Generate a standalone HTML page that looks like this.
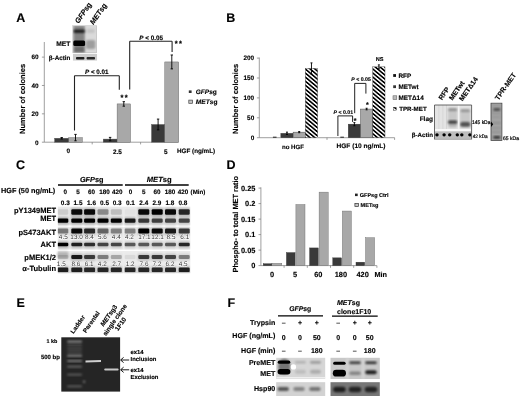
<!DOCTYPE html>
<html><head><meta charset="utf-8"><style>
html,body{margin:0;padding:0;background:#fff;}
#root{position:relative;width:520px;height:396px;overflow:hidden;background:#fff;}
svg{position:absolute;left:0;top:0;font-family:'Liberation Sans', Arial, sans-serif;text-rendering:geometricPrecision;filter:blur(0.3px);}
text[font-weight=bold]{stroke:#000;stroke-width:0.14px;}
</style></head><body><div id="root">
<svg width="520" height="396" viewBox="0 0 520 396">
<text x="16.30" y="22.30" font-size="12.5" text-anchor="start" font-weight="bold" font-style="normal" fill="#000" >A</text>
<text x="226.20" y="21.80" font-size="12.5" text-anchor="start" font-weight="bold" font-style="normal" fill="#000" >B</text>
<text x="16.00" y="169.40" font-size="12.5" text-anchor="start" font-weight="bold" font-style="normal" fill="#000" >C</text>
<text x="226.50" y="169.10" font-size="12.5" text-anchor="start" font-weight="bold" font-style="normal" fill="#000" >D</text>
<text x="16.60" y="306.60" font-size="12.5" text-anchor="start" font-weight="bold" font-style="normal" fill="#000" >E</text>
<text x="227.60" y="306.60" font-size="12.5" text-anchor="start" font-weight="bold" font-style="normal" fill="#000" >F</text>
<line x1="44.30" y1="42.00" x2="44.30" y2="142.20" stroke="#777" stroke-width="0.7"/>
<line x1="44.30" y1="142.20" x2="178.70" y2="142.20" stroke="#777" stroke-width="0.7"/>
<line x1="41.90" y1="142.20" x2="44.30" y2="142.20" stroke="#777" stroke-width="0.7"/>
<text x="38.60" y="144.50" font-size="6.4" text-anchor="end" font-weight="bold" font-style="normal" fill="#000" >0</text>
<line x1="41.90" y1="113.84" x2="44.30" y2="113.84" stroke="#777" stroke-width="0.7"/>
<text x="38.60" y="116.14" font-size="6.4" text-anchor="end" font-weight="bold" font-style="normal" fill="#000" >20</text>
<line x1="41.90" y1="85.48" x2="44.30" y2="85.48" stroke="#777" stroke-width="0.7"/>
<text x="38.60" y="87.78" font-size="6.4" text-anchor="end" font-weight="bold" font-style="normal" fill="#000" >40</text>
<line x1="41.90" y1="57.12" x2="44.30" y2="57.12" stroke="#777" stroke-width="0.7"/>
<text x="38.60" y="59.42" font-size="6.4" text-anchor="end" font-weight="bold" font-style="normal" fill="#000" >60</text>
<line x1="92.20" y1="142.20" x2="92.20" y2="144.40" stroke="#777" stroke-width="0.7"/>
<line x1="140.60" y1="142.20" x2="140.60" y2="144.40" stroke="#777" stroke-width="0.7"/>
<rect x="54.60" y="138.23" width="14.20" height="3.97" fill="#3a3a3a" stroke="#555" stroke-width="0.4" />
<rect x="68.80" y="137.66" width="13.50" height="4.54" fill="#a8a8a8" stroke="#555" stroke-width="0.4" />
<rect x="103.20" y="139.08" width="13.90" height="3.12" fill="#3a3a3a" stroke="#555" stroke-width="0.4" />
<rect x="117.10" y="103.91" width="13.40" height="38.29" fill="#a8a8a8" stroke="#555" stroke-width="0.4" />
<rect x="151.50" y="124.47" width="13.30" height="17.72" fill="#3a3a3a" stroke="#555" stroke-width="0.4" />
<rect x="164.80" y="61.94" width="13.90" height="80.26" fill="#a8a8a8" stroke="#555" stroke-width="0.4" />
<line x1="61.70" y1="137.52" x2="61.70" y2="138.94" stroke="#000" stroke-width="0.9"/>
<line x1="60.50" y1="137.52" x2="62.90" y2="137.52" stroke="#000" stroke-width="0.9"/>
<line x1="60.50" y1="138.94" x2="62.90" y2="138.94" stroke="#000" stroke-width="0.9"/>
<line x1="75.50" y1="134.40" x2="75.50" y2="140.78" stroke="#000" stroke-width="0.9"/>
<line x1="74.30" y1="134.40" x2="76.70" y2="134.40" stroke="#000" stroke-width="0.9"/>
<line x1="74.30" y1="140.78" x2="76.70" y2="140.78" stroke="#000" stroke-width="0.9"/>
<line x1="110.10" y1="137.38" x2="110.10" y2="140.78" stroke="#000" stroke-width="0.9"/>
<line x1="108.90" y1="137.38" x2="111.30" y2="137.38" stroke="#000" stroke-width="0.9"/>
<line x1="108.90" y1="140.78" x2="111.30" y2="140.78" stroke="#000" stroke-width="0.9"/>
<line x1="123.80" y1="101.65" x2="123.80" y2="106.18" stroke="#000" stroke-width="0.9"/>
<line x1="122.60" y1="101.65" x2="125.00" y2="101.65" stroke="#000" stroke-width="0.9"/>
<line x1="122.60" y1="106.18" x2="125.00" y2="106.18" stroke="#000" stroke-width="0.9"/>
<line x1="158.10" y1="119.09" x2="158.10" y2="129.86" stroke="#000" stroke-width="0.9"/>
<line x1="156.90" y1="119.09" x2="159.30" y2="119.09" stroke="#000" stroke-width="0.9"/>
<line x1="156.90" y1="129.86" x2="159.30" y2="129.86" stroke="#000" stroke-width="0.9"/>
<line x1="171.80" y1="54.99" x2="171.80" y2="68.89" stroke="#000" stroke-width="0.9"/>
<line x1="170.60" y1="54.99" x2="173.00" y2="54.99" stroke="#000" stroke-width="0.9"/>
<line x1="170.60" y1="68.89" x2="173.00" y2="68.89" stroke="#000" stroke-width="0.9"/>
<line x1="74.50" y1="130.50" x2="74.50" y2="75.70" stroke="#222" stroke-width="1.1"/>
<line x1="74.50" y1="75.70" x2="119.30" y2="75.70" stroke="#222" stroke-width="1.1"/>
<line x1="119.30" y1="75.70" x2="119.30" y2="89.80" stroke="#222" stroke-width="1.1"/>
<line x1="129.70" y1="89.60" x2="129.70" y2="41.20" stroke="#222" stroke-width="1.1"/>
<line x1="129.70" y1="41.20" x2="172.10" y2="41.20" stroke="#222" stroke-width="1.1"/>
<line x1="172.10" y1="41.20" x2="172.10" y2="52.00" stroke="#222" stroke-width="1.1"/>
<text x="96.80" y="74.10" font-size="6.3" text-anchor="middle" font-weight="bold" font-style="normal" fill="#000" ><tspan font-style="italic">P</tspan> &lt; 0.01</text>
<text x="151.10" y="40.00" font-size="6.3" text-anchor="middle" font-weight="bold" font-style="normal" fill="#000" ><tspan font-style="italic">P</tspan> &lt; 0.05</text>
<text x="124.80" y="99.60" font-size="7.5" text-anchor="middle" font-weight="bold" font-style="normal" fill="#000" letter-spacing="1.3">**</text>
<text x="178.90" y="45.80" font-size="7.5" text-anchor="middle" font-weight="bold" font-style="normal" fill="#000" letter-spacing="1.3">**</text>
<rect x="188.80" y="90.40" width="2.80" height="2.60" fill="#333" />
<text x="195.80" y="94.00" font-size="6.5" text-anchor="start" font-weight="bold" font-style="normal" fill="#000" ><tspan font-style="italic">GFP</tspan>sg</text>
<rect x="188.80" y="100.10" width="3.80" height="3.20" fill="#c4c4c4" stroke="#444" stroke-width="0.7" />
<text x="195.80" y="104.10" font-size="6.6" text-anchor="start" font-weight="bold" font-style="normal" fill="#000" ><tspan font-style="italic">MET</tspan>sg</text>
<text x="68.20" y="153.40" font-size="6.4" text-anchor="middle" font-weight="bold" font-style="normal" fill="#000" >0</text>
<text x="117.40" y="153.80" font-size="6.4" text-anchor="middle" font-weight="bold" font-style="normal" fill="#000" >2.5</text>
<text x="165.70" y="153.50" font-size="6.4" text-anchor="middle" font-weight="bold" font-style="normal" fill="#000" >5</text>
<text x="177.00" y="153.40" font-size="6.3" text-anchor="start" font-weight="bold" font-style="normal" fill="#000" >HGF (ng/mL)</text>
<text transform="translate(25.30,98.90) rotate(-90)" font-size="7.5" text-anchor="middle" font-weight="bold">Number of colonies</text>
<line x1="259.30" y1="57.50" x2="259.30" y2="137.70" stroke="#777" stroke-width="0.7"/>
<line x1="259.30" y1="137.70" x2="394.60" y2="137.70" stroke="#777" stroke-width="0.7"/>
<line x1="256.90" y1="137.70" x2="259.30" y2="137.70" stroke="#777" stroke-width="0.7"/>
<text x="254.20" y="140.00" font-size="6.4" text-anchor="end" font-weight="bold" font-style="normal" fill="#000" >0</text>
<line x1="256.90" y1="117.80" x2="259.30" y2="117.80" stroke="#777" stroke-width="0.7"/>
<text x="254.20" y="120.10" font-size="6.4" text-anchor="end" font-weight="bold" font-style="normal" fill="#000" >50</text>
<line x1="256.90" y1="97.90" x2="259.30" y2="97.90" stroke="#777" stroke-width="0.7"/>
<text x="254.20" y="100.20" font-size="6.4" text-anchor="end" font-weight="bold" font-style="normal" fill="#000" >100</text>
<line x1="256.90" y1="78.00" x2="259.30" y2="78.00" stroke="#777" stroke-width="0.7"/>
<text x="254.20" y="80.30" font-size="6.4" text-anchor="end" font-weight="bold" font-style="normal" fill="#000" >150</text>
<line x1="256.90" y1="58.10" x2="259.30" y2="58.10" stroke="#777" stroke-width="0.7"/>
<text x="254.20" y="60.40" font-size="6.4" text-anchor="end" font-weight="bold" font-style="normal" fill="#000" >200</text>
<line x1="327.00" y1="137.70" x2="327.00" y2="139.90" stroke="#777" stroke-width="0.7"/>
<line x1="394.60" y1="137.70" x2="394.60" y2="139.90" stroke="#777" stroke-width="0.7"/>
<defs><pattern id="hatch" patternUnits="userSpaceOnUse" width="3.1" height="3.1" patternTransform="rotate(-50)"><rect width="3.1" height="3.1" fill="#fff"/><rect width="1.6" height="3.1" fill="#000"/></pattern></defs>
<rect x="272.93" y="136.70" width="3.60" height="1.00" fill="#222" />
<rect x="280.85" y="133.32" width="12.25" height="4.38" fill="#3a3a3a" stroke="#333" stroke-width="0.4" />
<line x1="286.98" y1="132.13" x2="286.98" y2="134.52" stroke="#000" stroke-width="0.9"/>
<line x1="285.98" y1="132.13" x2="287.98" y2="132.13" stroke="#000" stroke-width="0.9"/>
<line x1="285.98" y1="134.52" x2="287.98" y2="134.52" stroke="#000" stroke-width="0.9"/>
<rect x="293.10" y="132.13" width="12.25" height="5.57" fill="#a8a8a8" stroke="#333" stroke-width="0.4" />
<line x1="299.23" y1="131.53" x2="299.23" y2="132.72" stroke="#000" stroke-width="0.9"/>
<line x1="298.23" y1="131.53" x2="300.23" y2="131.53" stroke="#000" stroke-width="0.9"/>
<line x1="298.23" y1="132.72" x2="300.23" y2="132.72" stroke="#000" stroke-width="0.9"/>
<rect x="305.35" y="68.45" width="12.25" height="69.25" fill="url(#hatch)" stroke="#333" stroke-width="0.4" />
<line x1="311.48" y1="62.88" x2="311.48" y2="74.02" stroke="#000" stroke-width="0.9"/>
<line x1="310.48" y1="62.88" x2="312.48" y2="62.88" stroke="#000" stroke-width="0.9"/>
<line x1="310.48" y1="74.02" x2="312.48" y2="74.02" stroke="#000" stroke-width="0.9"/>
<rect x="340.32" y="136.70" width="3.60" height="1.00" fill="#222" />
<rect x="348.25" y="124.17" width="12.25" height="13.53" fill="#3a3a3a" stroke="#333" stroke-width="0.4" />
<line x1="354.38" y1="122.58" x2="354.38" y2="125.76" stroke="#000" stroke-width="0.9"/>
<line x1="353.38" y1="122.58" x2="355.38" y2="122.58" stroke="#000" stroke-width="0.9"/>
<line x1="353.38" y1="125.76" x2="355.38" y2="125.76" stroke="#000" stroke-width="0.9"/>
<rect x="360.50" y="109.04" width="12.25" height="28.66" fill="#a8a8a8" stroke="#333" stroke-width="0.4" />
<line x1="366.62" y1="108.25" x2="366.62" y2="109.84" stroke="#000" stroke-width="0.9"/>
<line x1="365.62" y1="108.25" x2="367.62" y2="108.25" stroke="#000" stroke-width="0.9"/>
<line x1="365.62" y1="109.84" x2="367.62" y2="109.84" stroke="#000" stroke-width="0.9"/>
<rect x="372.75" y="66.86" width="12.25" height="70.84" fill="url(#hatch)" stroke="#333" stroke-width="0.4" />
<line x1="378.88" y1="64.87" x2="378.88" y2="68.85" stroke="#000" stroke-width="0.9"/>
<line x1="377.88" y1="64.87" x2="379.88" y2="64.87" stroke="#000" stroke-width="0.9"/>
<line x1="377.88" y1="68.85" x2="379.88" y2="68.85" stroke="#000" stroke-width="0.9"/>
<line x1="337.90" y1="136.00" x2="337.90" y2="115.90" stroke="#222" stroke-width="1.0"/>
<line x1="337.90" y1="115.90" x2="352.60" y2="115.90" stroke="#222" stroke-width="1.0"/>
<line x1="352.60" y1="115.90" x2="352.60" y2="121.90" stroke="#222" stroke-width="1.0"/>
<line x1="354.70" y1="113.20" x2="354.70" y2="83.40" stroke="#222" stroke-width="1.0"/>
<line x1="354.70" y1="83.40" x2="365.90" y2="83.40" stroke="#222" stroke-width="1.0"/>
<line x1="365.90" y1="83.40" x2="365.90" y2="93.60" stroke="#222" stroke-width="1.0"/>
<text x="343.30" y="113.60" font-size="5.2" text-anchor="middle" font-weight="bold" font-style="normal" fill="#000" ><tspan font-style="italic">P</tspan> &lt; 0.01</text>
<text x="361.10" y="81.30" font-size="5.2" text-anchor="middle" font-weight="bold" font-style="normal" fill="#000" ><tspan font-style="italic">P</tspan> &lt; 0.05</text>
<text x="355.00" y="122.60" font-size="7" text-anchor="middle" font-weight="bold" font-style="normal" fill="#000" >*</text>
<text x="367.40" y="107.40" font-size="7" text-anchor="middle" font-weight="bold" font-style="normal" fill="#000" >*</text>
<text x="379.60" y="60.60" font-size="5.6" text-anchor="middle" font-weight="bold" font-style="normal" fill="#000" >NS</text>
<text x="293.00" y="148.80" font-size="6.1" text-anchor="middle" font-weight="bold" font-style="normal" fill="#000" >no HGF</text>
<text x="361.00" y="148.20" font-size="6.6" text-anchor="middle" font-weight="bold" font-style="normal" fill="#000" >HGF (10 ng/mL)</text>
<text transform="translate(238.20,98.90) rotate(-90)" font-size="7.5" text-anchor="middle" font-weight="bold">Number of colonies</text>
<rect x="393.20" y="74.10" width="2.80" height="2.80" fill="#111" />
<text x="398.50" y="77.70" font-size="6.4" text-anchor="start" font-weight="bold" font-style="normal" fill="#000" >RFP</text>
<rect x="393.20" y="85.30" width="2.80" height="2.80" fill="#333" />
<text x="398.50" y="88.90" font-size="6.4" text-anchor="start" font-weight="bold" font-style="normal" fill="#000" >METwt</text>
<rect x="393.00" y="95.80" width="3.80" height="3.80" fill="#bbb" stroke="#555" stroke-width="0.5" />
<text x="398.50" y="100.00" font-size="6.4" text-anchor="start" font-weight="bold" font-style="normal" fill="#000" >MET&#916;14</text>
<rect x="393.30" y="107.20" width="3.00" height="3.00" fill="url(#hatch)" stroke="#333" stroke-width="0.4" />
<text x="399.20" y="111.10" font-size="6.2" text-anchor="start" font-weight="bold" font-style="normal" fill="#000" >TPR-MET</text>
<text x="91.70" y="182.10" font-size="7.3" text-anchor="middle" font-weight="bold" font-style="normal" fill="#000" ><tspan font-style="italic">GFP</tspan>sg</text>
<text x="159.20" y="181.80" font-size="7.6" text-anchor="middle" font-weight="bold" font-style="normal" fill="#000" ><tspan font-style="italic">MET</tspan>sg</text>
<line x1="58.00" y1="185.00" x2="122.70" y2="185.00" stroke="#000" stroke-width="1.4"/>
<line x1="125.00" y1="185.00" x2="188.70" y2="185.00" stroke="#000" stroke-width="1.4"/>
<text x="55.30" y="192.80" font-size="7.3" text-anchor="end" font-weight="bold" font-style="normal" fill="#000" >HGF (50 ng/mL)</text>
<text x="65.30" y="194.30" font-size="6.3" text-anchor="middle" font-weight="bold" font-style="normal" fill="#000" >0</text>
<text x="78.00" y="194.30" font-size="6.3" text-anchor="middle" font-weight="bold" font-style="normal" fill="#000" >5</text>
<text x="91.50" y="194.30" font-size="6.3" text-anchor="middle" font-weight="bold" font-style="normal" fill="#000" >60</text>
<text x="104.50" y="194.30" font-size="6.3" text-anchor="middle" font-weight="bold" font-style="normal" fill="#000" >180</text>
<text x="117.20" y="194.30" font-size="6.3" text-anchor="middle" font-weight="bold" font-style="normal" fill="#000" >420</text>
<text x="130.40" y="194.30" font-size="6.3" text-anchor="middle" font-weight="bold" font-style="normal" fill="#000" >0</text>
<text x="143.80" y="194.30" font-size="6.3" text-anchor="middle" font-weight="bold" font-style="normal" fill="#000" >5</text>
<text x="156.90" y="194.30" font-size="6.3" text-anchor="middle" font-weight="bold" font-style="normal" fill="#000" >60</text>
<text x="169.90" y="194.30" font-size="6.3" text-anchor="middle" font-weight="bold" font-style="normal" fill="#000" >180</text>
<text x="182.90" y="194.30" font-size="6.3" text-anchor="middle" font-weight="bold" font-style="normal" fill="#000" >420</text>
<text x="190.60" y="194.30" font-size="6.2" text-anchor="start" font-weight="bold" font-style="normal" fill="#000" >(Min)</text>
<text x="65.30" y="204.50" font-size="6.4" text-anchor="middle" font-weight="bold" font-style="normal" fill="#000" >0.3</text>
<text x="78.00" y="204.50" font-size="6.4" text-anchor="middle" font-weight="bold" font-style="normal" fill="#000" >1.5</text>
<text x="91.50" y="204.50" font-size="6.4" text-anchor="middle" font-weight="bold" font-style="normal" fill="#000" >1.6</text>
<text x="104.50" y="204.50" font-size="6.4" text-anchor="middle" font-weight="bold" font-style="normal" fill="#000" >0.5</text>
<text x="117.20" y="204.50" font-size="6.4" text-anchor="middle" font-weight="bold" font-style="normal" fill="#000" >0.3</text>
<text x="130.40" y="204.50" font-size="6.4" text-anchor="middle" font-weight="bold" font-style="normal" fill="#000" >0.1</text>
<text x="143.80" y="204.50" font-size="6.4" text-anchor="middle" font-weight="bold" font-style="normal" fill="#000" >2.4</text>
<text x="156.90" y="204.50" font-size="6.4" text-anchor="middle" font-weight="bold" font-style="normal" fill="#000" >2.9</text>
<text x="169.90" y="204.50" font-size="6.4" text-anchor="middle" font-weight="bold" font-style="normal" fill="#000" >1.8</text>
<text x="182.90" y="204.50" font-size="6.4" text-anchor="middle" font-weight="bold" font-style="normal" fill="#000" >0.8</text>
<text x="56.00" y="212.70" font-size="7.5" text-anchor="end" font-weight="bold" font-style="normal" fill="#000" >pY1349MET</text>
<text x="56.00" y="221.30" font-size="7.5" text-anchor="end" font-weight="bold" font-style="normal" fill="#000" >MET</text>
<text x="56.00" y="235.30" font-size="7.5" text-anchor="end" font-weight="bold" font-style="normal" fill="#000" >pS473AKT</text>
<text x="56.00" y="246.50" font-size="7.5" text-anchor="end" font-weight="bold" font-style="normal" fill="#000" >AKT</text>
<text x="56.00" y="260.20" font-size="7.5" text-anchor="end" font-weight="bold" font-style="normal" fill="#000" >pMEK1/2</text>
<text x="56.00" y="271.40" font-size="7.5" text-anchor="end" font-weight="bold" font-style="normal" fill="#000" >&#945;-Tubulin</text>
<line x1="260.90" y1="187.30" x2="260.90" y2="265.60" stroke="#777" stroke-width="0.7"/>
<line x1="260.90" y1="265.60" x2="376.80" y2="265.60" stroke="#777" stroke-width="0.7"/>
<line x1="258.50" y1="265.60" x2="260.90" y2="265.60" stroke="#777" stroke-width="0.7"/>
<text x="255.40" y="268.20" font-size="7.4" text-anchor="end" font-weight="bold" font-style="normal" fill="#000" >0</text>
<line x1="258.50" y1="250.10" x2="260.90" y2="250.10" stroke="#777" stroke-width="0.7"/>
<text x="255.40" y="252.70" font-size="7.4" text-anchor="end" font-weight="bold" font-style="normal" fill="#000" >0.05</text>
<line x1="258.50" y1="234.60" x2="260.90" y2="234.60" stroke="#777" stroke-width="0.7"/>
<text x="255.40" y="237.20" font-size="7.4" text-anchor="end" font-weight="bold" font-style="normal" fill="#000" >0.1</text>
<line x1="258.50" y1="219.10" x2="260.90" y2="219.10" stroke="#777" stroke-width="0.7"/>
<text x="255.40" y="221.70" font-size="7.4" text-anchor="end" font-weight="bold" font-style="normal" fill="#000" >0.15</text>
<line x1="258.50" y1="203.60" x2="260.90" y2="203.60" stroke="#777" stroke-width="0.7"/>
<text x="255.40" y="206.20" font-size="7.4" text-anchor="end" font-weight="bold" font-style="normal" fill="#000" >0.2</text>
<line x1="258.50" y1="188.10" x2="260.90" y2="188.10" stroke="#777" stroke-width="0.7"/>
<text x="255.40" y="190.70" font-size="7.4" text-anchor="end" font-weight="bold" font-style="normal" fill="#000" >0.25</text>
<line x1="284.10" y1="265.60" x2="284.10" y2="267.80" stroke="#777" stroke-width="0.7"/>
<rect x="263.20" y="263.74" width="8.70" height="1.86" fill="#3a3a3a" stroke="#333" stroke-width="0.4" />
<rect x="272.70" y="263.31" width="9.10" height="2.29" fill="#a8a8a8" stroke="#666" stroke-width="0.4" />
<line x1="307.30" y1="265.60" x2="307.30" y2="267.80" stroke="#777" stroke-width="0.7"/>
<rect x="286.40" y="252.58" width="8.70" height="13.02" fill="#3a3a3a" stroke="#333" stroke-width="0.4" />
<rect x="295.90" y="204.53" width="9.10" height="61.07" fill="#a8a8a8" stroke="#666" stroke-width="0.4" />
<line x1="330.50" y1="265.60" x2="330.50" y2="267.80" stroke="#777" stroke-width="0.7"/>
<rect x="309.60" y="247.93" width="8.70" height="17.67" fill="#3a3a3a" stroke="#333" stroke-width="0.4" />
<rect x="319.10" y="192.13" width="9.10" height="73.47" fill="#a8a8a8" stroke="#666" stroke-width="0.4" />
<line x1="353.70" y1="265.60" x2="353.70" y2="267.80" stroke="#777" stroke-width="0.7"/>
<rect x="332.80" y="257.85" width="8.70" height="7.75" fill="#3a3a3a" stroke="#333" stroke-width="0.4" />
<rect x="342.30" y="211.04" width="9.10" height="54.56" fill="#a8a8a8" stroke="#666" stroke-width="0.4" />
<line x1="376.90" y1="265.60" x2="376.90" y2="267.80" stroke="#777" stroke-width="0.7"/>
<rect x="356.00" y="262.19" width="8.70" height="3.41" fill="#3a3a3a" stroke="#333" stroke-width="0.4" />
<rect x="365.50" y="237.70" width="9.10" height="27.90" fill="#a8a8a8" stroke="#666" stroke-width="0.4" />
<text x="272.00" y="277.40" font-size="7.4" text-anchor="middle" font-weight="bold" font-style="normal" fill="#000" >0</text>
<text x="295.10" y="277.40" font-size="7.4" text-anchor="middle" font-weight="bold" font-style="normal" fill="#000" >5</text>
<text x="318.30" y="277.40" font-size="7.4" text-anchor="middle" font-weight="bold" font-style="normal" fill="#000" >60</text>
<text x="340.90" y="277.40" font-size="7.4" text-anchor="middle" font-weight="bold" font-style="normal" fill="#000" >180</text>
<text x="362.60" y="277.40" font-size="7.4" text-anchor="middle" font-weight="bold" font-style="normal" fill="#000" >420</text>
<text x="374.50" y="277.40" font-size="7.3" text-anchor="start" font-weight="bold" font-style="normal" fill="#000" >Min</text>
<rect x="355.00" y="193.60" width="2.70" height="2.50" fill="#222" />
<text x="359.80" y="197.20" font-size="5.5" text-anchor="start" font-weight="bold" font-style="normal" fill="#000" >GFPsg Ctrl</text>
<rect x="354.90" y="203.40" width="3.50" height="3.10" fill="#c4c4c4" stroke="#333" stroke-width="0.7" />
<text x="360.50" y="207.20" font-size="5.6" text-anchor="start" font-weight="bold" font-style="normal" fill="#000" >METsg</text>
<text transform="translate(237.70,224.20) rotate(-90)" font-size="7.4" text-anchor="middle" font-weight="bold">Phospho- to total MET ratio</text>
<text x="57.30" y="342.60" font-size="5.4" text-anchor="end" font-weight="bold" font-style="normal" fill="#000" >1 kb</text>
<text x="59.90" y="359.30" font-size="6.0" text-anchor="end" font-weight="bold" font-style="normal" fill="#000" >500 bp</text>
<text x="130.50" y="353.70" font-size="5.9" text-anchor="start" font-weight="bold" font-style="normal" fill="#000" >ex14</text>
<text x="130.50" y="361.20" font-size="5.9" text-anchor="start" font-weight="bold" font-style="normal" fill="#000" >Inclusion</text>
<text x="130.50" y="371.50" font-size="5.9" text-anchor="start" font-weight="bold" font-style="normal" fill="#000" >ex14</text>
<text x="130.50" y="379.10" font-size="5.9" text-anchor="start" font-weight="bold" font-style="normal" fill="#000" >Exclusion</text>
<text x="275.30" y="324.90" font-size="7.1" text-anchor="end" font-weight="bold" font-style="normal" fill="#000" >Trypsin</text>
<text x="275.30" y="338.40" font-size="7.1" text-anchor="end" font-weight="bold" font-style="normal" fill="#000" >HGF (ng/mL)</text>
<text x="275.30" y="353.10" font-size="7.1" text-anchor="end" font-weight="bold" font-style="normal" fill="#000" >HGF (min)</text>
<text x="275.30" y="364.70" font-size="7.1" text-anchor="end" font-weight="bold" font-style="normal" fill="#000" >PreMET</text>
<text x="275.30" y="376.00" font-size="7.1" text-anchor="end" font-weight="bold" font-style="normal" fill="#000" >MET</text>
<text x="275.30" y="390.70" font-size="7.1" text-anchor="end" font-weight="bold" font-style="normal" fill="#000" >Hsp90</text>
<text x="300.20" y="311.00" font-size="6.8" text-anchor="middle" font-weight="bold" font-style="normal" fill="#000" ><tspan font-style="italic">GFP</tspan>sg</text>
<text x="337.00" y="305.20" font-size="7.0" text-anchor="start" font-weight="bold" font-style="normal" fill="#000" ><tspan font-style="italic">MET</tspan>sg</text>
<text x="337.00" y="314.10" font-size="7.0" text-anchor="start" font-weight="bold" font-style="normal" fill="#000" >clone1F10</text>
<line x1="278.00" y1="315.90" x2="323.00" y2="315.90" stroke="#000" stroke-width="1.3"/>
<line x1="332.00" y1="316.10" x2="377.70" y2="316.10" stroke="#000" stroke-width="1.3"/>
<text x="283.80" y="325.00" font-size="7.0" text-anchor="middle" font-weight="bold" font-style="normal" fill="#000" >&#8211;</text>
<text x="300.00" y="325.00" font-size="7.0" text-anchor="middle" font-weight="bold" font-style="normal" fill="#000" >+</text>
<text x="316.80" y="325.00" font-size="7.0" text-anchor="middle" font-weight="bold" font-style="normal" fill="#000" >+</text>
<text x="338.30" y="325.00" font-size="7.0" text-anchor="middle" font-weight="bold" font-style="normal" fill="#000" >&#8211;</text>
<text x="354.70" y="325.00" font-size="7.0" text-anchor="middle" font-weight="bold" font-style="normal" fill="#000" >+</text>
<text x="369.70" y="325.00" font-size="7.0" text-anchor="middle" font-weight="bold" font-style="normal" fill="#000" >+</text>
<text x="283.80" y="339.80" font-size="7.0" text-anchor="middle" font-weight="bold" font-style="normal" fill="#000" >0</text>
<text x="300.00" y="339.80" font-size="7.0" text-anchor="middle" font-weight="bold" font-style="normal" fill="#000" >0</text>
<text x="316.80" y="339.80" font-size="7.0" text-anchor="middle" font-weight="bold" font-style="normal" fill="#000" >50</text>
<text x="338.30" y="339.80" font-size="7.0" text-anchor="middle" font-weight="bold" font-style="normal" fill="#000" >0</text>
<text x="354.70" y="339.80" font-size="7.0" text-anchor="middle" font-weight="bold" font-style="normal" fill="#000" >0</text>
<text x="369.70" y="339.80" font-size="7.0" text-anchor="middle" font-weight="bold" font-style="normal" fill="#000" >50</text>
<text x="283.80" y="353.00" font-size="7.0" text-anchor="middle" font-weight="bold" font-style="normal" fill="#000" >&#8211;</text>
<text x="300.00" y="353.00" font-size="7.0" text-anchor="middle" font-weight="bold" font-style="normal" fill="#000" >&#8211;</text>
<text x="316.80" y="353.00" font-size="7.0" text-anchor="middle" font-weight="bold" font-style="normal" fill="#000" >180</text>
<text x="338.30" y="353.00" font-size="7.0" text-anchor="middle" font-weight="bold" font-style="normal" fill="#000" >&#8211;</text>
<text x="354.70" y="353.00" font-size="7.0" text-anchor="middle" font-weight="bold" font-style="normal" fill="#000" >&#8211;</text>
<text x="369.70" y="353.00" font-size="7.0" text-anchor="middle" font-weight="bold" font-style="normal" fill="#000" >180</text>
<defs>
<filter id="f3" x="-50%" y="-50%" width="200%" height="200%"><feGaussianBlur stdDeviation="0.3"/></filter>
<filter id="f5" x="-50%" y="-50%" width="200%" height="200%"><feGaussianBlur stdDeviation="0.5"/></filter>
<filter id="f8" x="-50%" y="-50%" width="200%" height="200%"><feGaussianBlur stdDeviation="0.8"/></filter>
<filter id="f12" x="-50%" y="-50%" width="200%" height="200%"><feGaussianBlur stdDeviation="1.2"/></filter>
<filter id="f20" x="-50%" y="-50%" width="200%" height="200%"><feGaussianBlur stdDeviation="2.0"/></filter>
</defs>
<clipPath id="c1"><rect x="72.80" y="25.70" width="23.90" height="27.20"/></clipPath><g clip-path="url(#c1)">
<rect x="72.80" y="25.70" width="23.90" height="27.20" fill="#cbcbcb" />
<rect x="85.20" y="25.70" width="11.50" height="27.20" fill="#dadada" filter="url(#f5)"/>
<rect x="73.80" y="25.70" width="10.80" height="27.20" fill="#000" fill-opacity="0.36" filter="url(#f8)"/>
<rect x="73.60" y="29.70" width="11.20" height="3.00" rx="1.00" fill="#000" fill-opacity="0.85" filter="url(#f8)"/>
<rect x="73.30" y="40.50" width="11.80" height="5.60" rx="1.50" fill="#000" fill-opacity="1.00" filter="url(#f5)"/>
<rect x="73.95" y="47.00" width="10.50" height="5.00" rx="1.00" fill="#000" fill-opacity="0.20" filter="url(#f12)"/>
<rect x="85.85" y="40.00" width="9.50" height="9.00" rx="2.00" fill="#000" fill-opacity="0.28" filter="url(#f12)"/>
<rect x="86.10" y="29.00" width="9.00" height="4.00" rx="2.00" fill="#000" fill-opacity="0.10" filter="url(#f12)"/>
</g>
<rect x="72.80" y="25.70" width="23.90" height="27.20" fill="none" stroke="#aaa" stroke-width="0.4" />
<clipPath id="c2"><rect x="72.80" y="53.80" width="24.40" height="6.90"/></clipPath><g clip-path="url(#c2)">
<rect x="72.80" y="53.80" width="24.40" height="6.90" fill="#cbcbcb" />
<rect x="76.00" y="57.00" width="8.40" height="2.60" rx="0.80" fill="#000" fill-opacity="0.85" filter="url(#f5)"/>
<rect x="86.60" y="57.00" width="8.40" height="2.60" rx="0.80" fill="#000" fill-opacity="0.80" filter="url(#f5)"/>
</g>
<text transform="translate(78.40,23.90) rotate(-55)" font-size="7.3" text-anchor="start" font-weight="bold"><tspan font-style="italic">GFP</tspan>sg</text>
<text transform="translate(93.40,25.00) rotate(-55)" font-size="7.3" text-anchor="start" font-weight="bold"><tspan font-style="italic">MET</tspan>sg</text>
<text x="70.40" y="45.50" font-size="6.7" text-anchor="end" font-weight="bold" font-style="normal" fill="#000" >MET</text>
<text x="70.40" y="60.30" font-size="6.3" text-anchor="end" font-weight="bold" font-style="normal" fill="#000" >&#946;-Actin</text>
<clipPath id="c3"><rect x="434.50" y="105.00" width="37.10" height="34.40"/></clipPath><g clip-path="url(#c3)">
<rect x="434.50" y="105.00" width="37.10" height="34.40" fill="#e4e4e4" />
<rect x="438.50" y="105.00" width="0.80" height="24.00" fill="#d4d4d4" filter="url(#f5)"/>
<rect x="442.50" y="105.00" width="0.80" height="24.00" fill="#d4d4d4" filter="url(#f5)"/>
<rect x="446.00" y="105.00" width="0.80" height="24.00" fill="#d4d4d4" filter="url(#f5)"/>
<rect x="447.95" y="109.00" width="9.50" height="14.00" rx="2.00" fill="#000" fill-opacity="0.12" filter="url(#f12)"/>
<rect x="447.95" y="108.10" width="9.50" height="3.00" rx="1.50" fill="#000" fill-opacity="0.30" filter="url(#f8)"/>
<rect x="447.95" y="120.60" width="9.50" height="3.20" rx="1.60" fill="#000" fill-opacity="0.72" filter="url(#f8)"/>
<rect x="448.20" y="123.50" width="9.00" height="4.00" rx="2.00" fill="#000" fill-opacity="0.20" filter="url(#f12)"/>
<rect x="459.95" y="110.00" width="10.50" height="14.00" rx="2.00" fill="#000" fill-opacity="0.12" filter="url(#f12)"/>
<rect x="460.20" y="109.10" width="10.00" height="3.00" rx="1.50" fill="#000" fill-opacity="0.28" filter="url(#f8)"/>
<rect x="459.95" y="122.10" width="10.50" height="5.00" rx="2.50" fill="#000" fill-opacity="0.62" filter="url(#f8)"/>
<rect x="457.90" y="105.00" width="1.60" height="24.00" fill="#f2f2f2" filter="url(#f5)"/>
<rect x="434.50" y="129.00" width="37.10" height="2.00" fill="#f8f8f8" filter="url(#f3)"/>
<rect x="434.50" y="131.50" width="37.10" height="8.00" fill="#bdbdbd" filter="url(#f5)"/>
<rect x="435.30" y="133.20" width="3.40" height="3.20" rx="1.60" fill="#000" fill-opacity="1.00" filter="url(#f5)"/>
<rect x="442.40" y="133.20" width="3.40" height="3.20" rx="1.60" fill="#000" fill-opacity="1.00" filter="url(#f5)"/>
<rect x="448.00" y="133.20" width="3.40" height="3.20" rx="1.60" fill="#000" fill-opacity="1.00" filter="url(#f5)"/>
<rect x="455.60" y="133.20" width="3.40" height="3.20" rx="1.60" fill="#000" fill-opacity="1.00" filter="url(#f5)"/>
<rect x="460.10" y="133.20" width="3.40" height="3.20" rx="1.60" fill="#000" fill-opacity="1.00" filter="url(#f5)"/>
<rect x="468.20" y="133.20" width="3.40" height="3.20" rx="1.60" fill="#000" fill-opacity="1.00" filter="url(#f5)"/>
</g>
<path d="M434.5 139.4 L434.5 105.0 L471.6 105.0 L471.6 139.4" fill="none" stroke="#444" stroke-width="0.8"/>
<line x1="434.50" y1="139.40" x2="471.60" y2="139.40" stroke="#888" stroke-width="0.6"/>
<text x="433.00" y="121.30" font-size="6.5" text-anchor="end" font-weight="bold" font-style="normal" fill="#000" >Flag</text>
<text x="433.00" y="137.00" font-size="6.2" text-anchor="end" font-weight="bold" font-style="normal" fill="#000" >&#946;-Actin</text>
<text x="472.10" y="123.80" font-size="5.3" text-anchor="start" font-weight="normal" font-style="normal" fill="#000" stroke="#000" stroke-width="0.2" textLength="18.3" lengthAdjust="spacingAndGlyphs">145 kDa</text>
<text x="472.70" y="137.60" font-size="5.0" text-anchor="start" font-weight="normal" font-style="normal" fill="#000" stroke="#000" stroke-width="0.2" textLength="15.0" lengthAdjust="spacingAndGlyphs">42 kDa</text>
<text transform="translate(442.00,100.40) rotate(-55)" font-size="6.9" text-anchor="start" font-weight="bold">RFP</text>
<text transform="translate(452.40,100.80) rotate(-55)" font-size="6.9" text-anchor="start" font-weight="bold">METwt</text>
<text transform="translate(462.60,101.40) rotate(-55)" font-size="6.9" text-anchor="start" font-weight="bold">MET&#916;14</text>
<clipPath id="c4"><rect x="491.00" y="103.20" width="10.90" height="37.20"/></clipPath><g clip-path="url(#c4)">
<rect x="491.00" y="103.20" width="10.90" height="37.20" fill="#a2a2a2" />
<rect x="491.80" y="105.25" width="9.00" height="1.50" rx="0.75" fill="#000" fill-opacity="0.10" filter="url(#f8)"/>
<rect x="491.80" y="112.25" width="9.00" height="1.50" rx="0.75" fill="#000" fill-opacity="0.12" filter="url(#f8)"/>
<rect x="491.80" y="116.25" width="9.00" height="1.50" rx="0.75" fill="#000" fill-opacity="0.08" filter="url(#f8)"/>
<rect x="491.80" y="122.25" width="9.00" height="1.50" rx="0.75" fill="#000" fill-opacity="0.15" filter="url(#f8)"/>
<rect x="491.80" y="127.25" width="9.00" height="1.50" rx="0.75" fill="#000" fill-opacity="0.10" filter="url(#f8)"/>
<rect x="491.80" y="131.25" width="9.00" height="1.50" rx="0.75" fill="#000" fill-opacity="0.12" filter="url(#f8)"/>
<rect x="493.30" y="108.60" width="7.00" height="2.00" rx="1.00" fill="#000" fill-opacity="0.75" filter="url(#f8)"/>
<rect x="493.30" y="136.30" width="7.00" height="2.20" rx="1.10" fill="#000" fill-opacity="0.85" filter="url(#f8)"/>
</g>
<rect x="491.00" y="103.20" width="10.90" height="37.20" fill="none" stroke="#444" stroke-width="0.8" />
<path d="M491.0 121.5 L493.2 124.2 L491.0 127.0 Z" fill="#000"/>
<text x="503.00" y="139.80" font-size="5.2" text-anchor="start" font-weight="normal" font-style="normal" fill="#000" stroke="#000" stroke-width="0.2" textLength="16.0" lengthAdjust="spacingAndGlyphs">65 kDa</text>
<text transform="translate(498.40,100.80) rotate(-55)" font-size="7.1" text-anchor="start" font-weight="bold">TPR-MET</text>
<rect x="57.80" y="206.60" width="132.50" height="18.80" fill="#ececec" />
<rect x="57.80" y="227.20" width="132.50" height="22.40" fill="#ececec" />
<rect x="57.80" y="251.00" width="132.50" height="22.20" fill="#ececec" />
<clipPath id="c5"><rect x="57.80" y="206.60" width="65.60" height="66.60"/></clipPath><g clip-path="url(#c5)">
<rect x="56.80" y="207.85" width="12.00" height="8.90" rx="1.50" fill="#000" fill-opacity="0.03" filter="url(#f12)"/>
<rect x="57.30" y="209.30" width="11.00" height="5.40" rx="1.20" fill="#000" fill-opacity="0.11" filter="url(#f5)"/>
<rect x="70.80" y="207.85" width="12.00" height="8.90" rx="1.50" fill="#000" fill-opacity="0.24" filter="url(#f12)"/>
<rect x="71.30" y="209.30" width="11.00" height="5.40" rx="1.20" fill="#000" fill-opacity="0.95" filter="url(#f5)"/>
<rect x="83.60" y="207.85" width="12.00" height="8.90" rx="1.50" fill="#000" fill-opacity="0.24" filter="url(#f12)"/>
<rect x="84.10" y="209.30" width="11.00" height="5.40" rx="1.20" fill="#000" fill-opacity="0.95" filter="url(#f5)"/>
<rect x="97.00" y="207.85" width="12.00" height="8.90" rx="1.50" fill="#000" fill-opacity="0.09" filter="url(#f12)"/>
<rect x="97.50" y="209.30" width="11.00" height="5.40" rx="1.20" fill="#000" fill-opacity="0.36" filter="url(#f5)"/>
<rect x="110.30" y="207.85" width="12.00" height="8.90" rx="1.50" fill="#000" fill-opacity="0.04" filter="url(#f12)"/>
<rect x="110.80" y="209.30" width="11.00" height="5.40" rx="1.20" fill="#000" fill-opacity="0.17" filter="url(#f5)"/>
<rect x="56.80" y="217.05" width="12.00" height="7.70" rx="1.50" fill="#000" fill-opacity="0.25" filter="url(#f12)"/>
<rect x="57.30" y="218.50" width="11.00" height="4.20" rx="1.20" fill="#000" fill-opacity="1.00" filter="url(#f5)"/>
<rect x="70.80" y="217.05" width="12.00" height="7.70" rx="1.50" fill="#000" fill-opacity="0.25" filter="url(#f12)"/>
<rect x="71.30" y="218.50" width="11.00" height="4.20" rx="1.20" fill="#000" fill-opacity="1.00" filter="url(#f5)"/>
<rect x="83.60" y="217.05" width="12.00" height="7.70" rx="1.50" fill="#000" fill-opacity="0.25" filter="url(#f12)"/>
<rect x="84.10" y="218.50" width="11.00" height="4.20" rx="1.20" fill="#000" fill-opacity="1.00" filter="url(#f5)"/>
<rect x="97.00" y="217.05" width="12.00" height="7.70" rx="1.50" fill="#000" fill-opacity="0.25" filter="url(#f12)"/>
<rect x="97.50" y="218.50" width="11.00" height="4.20" rx="1.20" fill="#000" fill-opacity="1.00" filter="url(#f5)"/>
<rect x="110.30" y="217.05" width="12.00" height="7.70" rx="1.50" fill="#000" fill-opacity="0.25" filter="url(#f12)"/>
<rect x="110.80" y="218.50" width="11.00" height="4.20" rx="1.20" fill="#000" fill-opacity="1.00" filter="url(#f5)"/>
<rect x="56.80" y="227.15" width="12.00" height="8.30" rx="1.50" fill="#000" fill-opacity="0.11" filter="url(#f12)"/>
<rect x="57.30" y="228.60" width="11.00" height="4.80" rx="1.20" fill="#000" fill-opacity="0.44" filter="url(#f5)"/>
<rect x="70.80" y="227.15" width="12.00" height="8.30" rx="1.50" fill="#000" fill-opacity="0.24" filter="url(#f12)"/>
<rect x="71.30" y="228.60" width="11.00" height="4.80" rx="1.20" fill="#000" fill-opacity="0.95" filter="url(#f5)"/>
<rect x="83.60" y="227.15" width="12.00" height="8.30" rx="1.50" fill="#000" fill-opacity="0.20" filter="url(#f12)"/>
<rect x="84.10" y="228.60" width="11.00" height="4.80" rx="1.20" fill="#000" fill-opacity="0.80" filter="url(#f5)"/>
<rect x="97.00" y="227.15" width="12.00" height="8.30" rx="1.50" fill="#000" fill-opacity="0.13" filter="url(#f12)"/>
<rect x="97.50" y="228.60" width="11.00" height="4.80" rx="1.20" fill="#000" fill-opacity="0.52" filter="url(#f5)"/>
<rect x="110.30" y="227.15" width="12.00" height="8.30" rx="1.50" fill="#000" fill-opacity="0.10" filter="url(#f12)"/>
<rect x="110.80" y="228.60" width="11.00" height="4.80" rx="1.20" fill="#000" fill-opacity="0.40" filter="url(#f5)"/>
<rect x="56.80" y="241.25" width="12.00" height="7.10" rx="1.50" fill="#000" fill-opacity="0.25" filter="url(#f12)"/>
<rect x="57.30" y="242.70" width="11.00" height="3.60" rx="1.20" fill="#000" fill-opacity="1.00" filter="url(#f5)"/>
<rect x="70.80" y="241.25" width="12.00" height="7.10" rx="1.50" fill="#000" fill-opacity="0.21" filter="url(#f12)"/>
<rect x="71.30" y="242.70" width="11.00" height="3.60" rx="1.20" fill="#000" fill-opacity="0.84" filter="url(#f5)"/>
<rect x="83.60" y="241.25" width="12.00" height="7.10" rx="1.50" fill="#000" fill-opacity="0.19" filter="url(#f12)"/>
<rect x="84.10" y="242.70" width="11.00" height="3.60" rx="1.20" fill="#000" fill-opacity="0.76" filter="url(#f5)"/>
<rect x="97.00" y="241.25" width="12.00" height="7.10" rx="1.50" fill="#000" fill-opacity="0.16" filter="url(#f12)"/>
<rect x="97.50" y="242.70" width="11.00" height="3.60" rx="1.20" fill="#000" fill-opacity="0.66" filter="url(#f5)"/>
<rect x="110.30" y="241.25" width="12.00" height="7.10" rx="1.50" fill="#000" fill-opacity="0.16" filter="url(#f12)"/>
<rect x="110.80" y="242.70" width="11.00" height="3.60" rx="1.20" fill="#000" fill-opacity="0.66" filter="url(#f5)"/>
<rect x="56.80" y="253.45" width="12.00" height="7.50" rx="1.50" fill="#000" fill-opacity="0.03" filter="url(#f12)"/>
<rect x="57.30" y="254.90" width="11.00" height="4.00" rx="1.20" fill="#000" fill-opacity="0.13" filter="url(#f5)"/>
<rect x="70.80" y="253.45" width="12.00" height="7.50" rx="1.50" fill="#000" fill-opacity="0.22" filter="url(#f12)"/>
<rect x="71.30" y="254.90" width="11.00" height="4.00" rx="1.20" fill="#000" fill-opacity="0.87" filter="url(#f5)"/>
<rect x="83.60" y="253.45" width="12.00" height="7.50" rx="1.50" fill="#000" fill-opacity="0.18" filter="url(#f12)"/>
<rect x="84.10" y="254.90" width="11.00" height="4.00" rx="1.20" fill="#000" fill-opacity="0.71" filter="url(#f5)"/>
<rect x="97.00" y="253.45" width="12.00" height="7.50" rx="1.50" fill="#000" fill-opacity="0.10" filter="url(#f12)"/>
<rect x="97.50" y="254.90" width="11.00" height="4.00" rx="1.20" fill="#000" fill-opacity="0.42" filter="url(#f5)"/>
<rect x="110.30" y="253.45" width="12.00" height="7.50" rx="1.50" fill="#000" fill-opacity="0.06" filter="url(#f12)"/>
<rect x="110.80" y="254.90" width="11.00" height="4.00" rx="1.20" fill="#000" fill-opacity="0.26" filter="url(#f5)"/>
<rect x="56.80" y="266.05" width="12.00" height="8.10" rx="1.50" fill="#000" fill-opacity="0.21" filter="url(#f12)"/>
<rect x="57.30" y="267.50" width="11.00" height="4.60" rx="1.20" fill="#000" fill-opacity="0.84" filter="url(#f5)"/>
<rect x="70.80" y="266.05" width="12.00" height="8.10" rx="1.50" fill="#000" fill-opacity="0.21" filter="url(#f12)"/>
<rect x="71.30" y="267.50" width="11.00" height="4.60" rx="1.20" fill="#000" fill-opacity="0.84" filter="url(#f5)"/>
<rect x="83.60" y="266.05" width="12.00" height="8.10" rx="1.50" fill="#000" fill-opacity="0.20" filter="url(#f12)"/>
<rect x="84.10" y="267.50" width="11.00" height="4.60" rx="1.20" fill="#000" fill-opacity="0.80" filter="url(#f5)"/>
<rect x="97.00" y="266.05" width="12.00" height="8.10" rx="1.50" fill="#000" fill-opacity="0.20" filter="url(#f12)"/>
<rect x="97.50" y="267.50" width="11.00" height="4.60" rx="1.20" fill="#000" fill-opacity="0.80" filter="url(#f5)"/>
<rect x="110.30" y="266.05" width="12.00" height="8.10" rx="1.50" fill="#000" fill-opacity="0.20" filter="url(#f12)"/>
<rect x="110.80" y="267.50" width="11.00" height="4.60" rx="1.20" fill="#000" fill-opacity="0.80" filter="url(#f5)"/>
</g>
<clipPath id="c6"><rect x="124.40" y="206.60" width="65.90" height="66.60"/></clipPath><g clip-path="url(#c6)">
<rect x="124.00" y="207.85" width="12.00" height="8.90" rx="1.50" fill="#000" fill-opacity="0.01" filter="url(#f12)"/>
<rect x="124.50" y="209.30" width="11.00" height="5.40" rx="1.20" fill="#000" fill-opacity="0.03" filter="url(#f5)"/>
<rect x="137.80" y="207.85" width="12.00" height="8.90" rx="1.50" fill="#000" fill-opacity="0.24" filter="url(#f12)"/>
<rect x="138.30" y="209.30" width="11.00" height="5.40" rx="1.20" fill="#000" fill-opacity="0.95" filter="url(#f5)"/>
<rect x="151.20" y="207.85" width="12.00" height="8.90" rx="1.50" fill="#000" fill-opacity="0.25" filter="url(#f12)"/>
<rect x="151.70" y="209.30" width="11.00" height="5.40" rx="1.20" fill="#000" fill-opacity="1.00" filter="url(#f5)"/>
<rect x="164.50" y="207.85" width="12.00" height="8.90" rx="1.50" fill="#000" fill-opacity="0.24" filter="url(#f12)"/>
<rect x="165.00" y="209.30" width="11.00" height="5.40" rx="1.20" fill="#000" fill-opacity="0.95" filter="url(#f5)"/>
<rect x="178.20" y="207.85" width="12.00" height="8.90" rx="1.50" fill="#000" fill-opacity="0.20" filter="url(#f12)"/>
<rect x="178.70" y="209.30" width="11.00" height="5.40" rx="1.20" fill="#000" fill-opacity="0.80" filter="url(#f5)"/>
<rect x="124.00" y="217.05" width="12.00" height="7.70" rx="1.50" fill="#000" fill-opacity="0.22" filter="url(#f12)"/>
<rect x="124.50" y="218.50" width="11.00" height="4.20" rx="1.20" fill="#000" fill-opacity="0.87" filter="url(#f5)"/>
<rect x="137.80" y="217.05" width="12.00" height="7.70" rx="1.50" fill="#000" fill-opacity="0.18" filter="url(#f12)"/>
<rect x="138.30" y="218.50" width="11.00" height="4.20" rx="1.20" fill="#000" fill-opacity="0.71" filter="url(#f5)"/>
<rect x="151.20" y="217.05" width="12.00" height="7.70" rx="1.50" fill="#000" fill-opacity="0.17" filter="url(#f12)"/>
<rect x="151.70" y="218.50" width="11.00" height="4.20" rx="1.20" fill="#000" fill-opacity="0.68" filter="url(#f5)"/>
<rect x="164.50" y="217.05" width="12.00" height="7.70" rx="1.50" fill="#000" fill-opacity="0.16" filter="url(#f12)"/>
<rect x="165.00" y="218.50" width="11.00" height="4.20" rx="1.20" fill="#000" fill-opacity="0.66" filter="url(#f5)"/>
<rect x="178.20" y="217.05" width="12.00" height="7.70" rx="1.50" fill="#000" fill-opacity="0.16" filter="url(#f12)"/>
<rect x="178.70" y="218.50" width="11.00" height="4.20" rx="1.20" fill="#000" fill-opacity="0.66" filter="url(#f5)"/>
<rect x="124.00" y="227.15" width="12.00" height="8.30" rx="1.50" fill="#000" fill-opacity="0.10" filter="url(#f12)"/>
<rect x="124.50" y="228.60" width="11.00" height="4.80" rx="1.20" fill="#000" fill-opacity="0.40" filter="url(#f5)"/>
<rect x="137.80" y="227.15" width="12.00" height="8.30" rx="1.50" fill="#000" fill-opacity="0.25" filter="url(#f12)"/>
<rect x="138.30" y="228.60" width="11.00" height="4.80" rx="1.20" fill="#000" fill-opacity="1.00" filter="url(#f5)"/>
<rect x="151.20" y="227.15" width="12.00" height="8.30" rx="1.50" fill="#000" fill-opacity="0.24" filter="url(#f12)"/>
<rect x="151.70" y="228.60" width="11.00" height="4.80" rx="1.20" fill="#000" fill-opacity="0.95" filter="url(#f5)"/>
<rect x="164.50" y="227.15" width="12.00" height="8.30" rx="1.50" fill="#000" fill-opacity="0.22" filter="url(#f12)"/>
<rect x="165.00" y="228.60" width="11.00" height="4.80" rx="1.20" fill="#000" fill-opacity="0.87" filter="url(#f5)"/>
<rect x="178.20" y="227.15" width="12.00" height="8.30" rx="1.50" fill="#000" fill-opacity="0.18" filter="url(#f12)"/>
<rect x="178.70" y="228.60" width="11.00" height="4.80" rx="1.20" fill="#000" fill-opacity="0.71" filter="url(#f5)"/>
<rect x="124.00" y="241.25" width="12.00" height="7.10" rx="1.50" fill="#000" fill-opacity="0.14" filter="url(#f12)"/>
<rect x="124.50" y="242.70" width="11.00" height="3.60" rx="1.20" fill="#000" fill-opacity="0.57" filter="url(#f5)"/>
<rect x="137.80" y="241.25" width="12.00" height="7.10" rx="1.50" fill="#000" fill-opacity="0.14" filter="url(#f12)"/>
<rect x="138.30" y="242.70" width="11.00" height="3.60" rx="1.20" fill="#000" fill-opacity="0.57" filter="url(#f5)"/>
<rect x="151.20" y="241.25" width="12.00" height="7.10" rx="1.50" fill="#000" fill-opacity="0.14" filter="url(#f12)"/>
<rect x="151.70" y="242.70" width="11.00" height="3.60" rx="1.20" fill="#000" fill-opacity="0.57" filter="url(#f5)"/>
<rect x="164.50" y="241.25" width="12.00" height="7.10" rx="1.50" fill="#000" fill-opacity="0.14" filter="url(#f12)"/>
<rect x="165.00" y="242.70" width="11.00" height="3.60" rx="1.20" fill="#000" fill-opacity="0.57" filter="url(#f5)"/>
<rect x="178.20" y="241.25" width="12.00" height="7.10" rx="1.50" fill="#000" fill-opacity="0.20" filter="url(#f12)"/>
<rect x="178.70" y="242.70" width="11.00" height="3.60" rx="1.20" fill="#000" fill-opacity="0.80" filter="url(#f5)"/>
<rect x="124.00" y="253.45" width="12.00" height="7.50" rx="1.50" fill="#000" fill-opacity="0.02" filter="url(#f12)"/>
<rect x="124.50" y="254.90" width="11.00" height="4.00" rx="1.20" fill="#000" fill-opacity="0.06" filter="url(#f5)"/>
<rect x="137.80" y="253.45" width="12.00" height="7.50" rx="1.50" fill="#000" fill-opacity="0.18" filter="url(#f12)"/>
<rect x="138.30" y="254.90" width="11.00" height="4.00" rx="1.20" fill="#000" fill-opacity="0.71" filter="url(#f5)"/>
<rect x="151.20" y="253.45" width="12.00" height="7.50" rx="1.50" fill="#000" fill-opacity="0.18" filter="url(#f12)"/>
<rect x="151.70" y="254.90" width="11.00" height="4.00" rx="1.20" fill="#000" fill-opacity="0.71" filter="url(#f5)"/>
<rect x="164.50" y="253.45" width="12.00" height="7.50" rx="1.50" fill="#000" fill-opacity="0.16" filter="url(#f12)"/>
<rect x="165.00" y="254.90" width="11.00" height="4.00" rx="1.20" fill="#000" fill-opacity="0.66" filter="url(#f5)"/>
<rect x="178.20" y="253.45" width="12.00" height="7.50" rx="1.50" fill="#000" fill-opacity="0.10" filter="url(#f12)"/>
<rect x="178.70" y="254.90" width="11.00" height="4.00" rx="1.20" fill="#000" fill-opacity="0.42" filter="url(#f5)"/>
<rect x="124.00" y="266.05" width="12.00" height="8.10" rx="1.50" fill="#000" fill-opacity="0.20" filter="url(#f12)"/>
<rect x="124.50" y="267.50" width="11.00" height="4.60" rx="1.20" fill="#000" fill-opacity="0.80" filter="url(#f5)"/>
<rect x="137.80" y="266.05" width="12.00" height="8.10" rx="1.50" fill="#000" fill-opacity="0.20" filter="url(#f12)"/>
<rect x="138.30" y="267.50" width="11.00" height="4.60" rx="1.20" fill="#000" fill-opacity="0.80" filter="url(#f5)"/>
<rect x="151.20" y="266.05" width="12.00" height="8.10" rx="1.50" fill="#000" fill-opacity="0.20" filter="url(#f12)"/>
<rect x="151.70" y="267.50" width="11.00" height="4.60" rx="1.20" fill="#000" fill-opacity="0.80" filter="url(#f5)"/>
<rect x="164.50" y="266.05" width="12.00" height="8.10" rx="1.50" fill="#000" fill-opacity="0.20" filter="url(#f12)"/>
<rect x="165.00" y="267.50" width="11.00" height="4.60" rx="1.20" fill="#000" fill-opacity="0.80" filter="url(#f5)"/>
<rect x="178.20" y="266.05" width="12.00" height="8.10" rx="1.50" fill="#000" fill-opacity="0.21" filter="url(#f12)"/>
<rect x="178.70" y="267.50" width="11.00" height="4.60" rx="1.20" fill="#000" fill-opacity="0.84" filter="url(#f5)"/>
</g>
<rect x="57.05" y="251.50" width="11.50" height="7.00" rx="1.50" fill="#000" fill-opacity="0.22" filter="url(#f12)"/>
<text x="63.30" y="239.40" font-size="6.4" text-anchor="middle" font-weight="normal" font-style="normal" fill="#333" stroke="#fff" stroke-width="0.9" paint-order="stroke">4.5</text>
<text x="76.60" y="239.40" font-size="6.4" text-anchor="middle" font-weight="normal" font-style="normal" fill="#333" stroke="#fff" stroke-width="0.9" paint-order="stroke">13.0</text>
<text x="89.40" y="239.40" font-size="6.4" text-anchor="middle" font-weight="normal" font-style="normal" fill="#333" stroke="#fff" stroke-width="0.9" paint-order="stroke">8.4</text>
<text x="102.40" y="239.40" font-size="6.4" text-anchor="middle" font-weight="normal" font-style="normal" fill="#333" stroke="#fff" stroke-width="0.9" paint-order="stroke">5.6</text>
<text x="116.30" y="239.40" font-size="6.4" text-anchor="middle" font-weight="normal" font-style="normal" fill="#333" stroke="#fff" stroke-width="0.9" paint-order="stroke">4.4</text>
<text x="129.40" y="239.40" font-size="6.4" text-anchor="middle" font-weight="normal" font-style="normal" fill="#333" stroke="#fff" stroke-width="0.9" paint-order="stroke">4.2</text>
<text x="144.40" y="239.40" font-size="6.4" text-anchor="middle" font-weight="normal" font-style="normal" fill="#333" stroke="#fff" stroke-width="0.9" paint-order="stroke">17.1</text>
<text x="157.60" y="239.40" font-size="6.4" text-anchor="middle" font-weight="normal" font-style="normal" fill="#333" stroke="#fff" stroke-width="0.9" paint-order="stroke">12.1</text>
<text x="171.00" y="239.40" font-size="6.4" text-anchor="middle" font-weight="normal" font-style="normal" fill="#333" stroke="#fff" stroke-width="0.9" paint-order="stroke">8.5</text>
<text x="184.80" y="239.40" font-size="6.4" text-anchor="middle" font-weight="normal" font-style="normal" fill="#333" stroke="#fff" stroke-width="0.9" paint-order="stroke">6.1</text>
<text x="61.30" y="266.10" font-size="6.4" text-anchor="middle" font-weight="normal" font-style="normal" fill="#333" stroke="#fff" stroke-width="0.9" paint-order="stroke">1.5</text>
<text x="75.90" y="266.10" font-size="6.4" text-anchor="middle" font-weight="normal" font-style="normal" fill="#333" stroke="#fff" stroke-width="0.9" paint-order="stroke">8.6</text>
<text x="89.10" y="266.10" font-size="6.4" text-anchor="middle" font-weight="normal" font-style="normal" fill="#333" stroke="#fff" stroke-width="0.9" paint-order="stroke">6.1</text>
<text x="102.30" y="266.10" font-size="6.4" text-anchor="middle" font-weight="normal" font-style="normal" fill="#333" stroke="#fff" stroke-width="0.9" paint-order="stroke">4.2</text>
<text x="116.60" y="266.10" font-size="6.4" text-anchor="middle" font-weight="normal" font-style="normal" fill="#333" stroke="#fff" stroke-width="0.9" paint-order="stroke">2.7</text>
<text x="130.20" y="266.10" font-size="6.4" text-anchor="middle" font-weight="normal" font-style="normal" fill="#333" stroke="#fff" stroke-width="0.9" paint-order="stroke">1.2</text>
<text x="144.00" y="266.10" font-size="6.4" text-anchor="middle" font-weight="normal" font-style="normal" fill="#333" stroke="#fff" stroke-width="0.9" paint-order="stroke">7.6</text>
<text x="157.00" y="266.10" font-size="6.4" text-anchor="middle" font-weight="normal" font-style="normal" fill="#333" stroke="#fff" stroke-width="0.9" paint-order="stroke">7.2</text>
<text x="170.00" y="266.10" font-size="6.4" text-anchor="middle" font-weight="normal" font-style="normal" fill="#333" stroke="#fff" stroke-width="0.9" paint-order="stroke">6.2</text>
<text x="183.20" y="266.10" font-size="6.4" text-anchor="middle" font-weight="normal" font-style="normal" fill="#333" stroke="#fff" stroke-width="0.9" paint-order="stroke">4.5</text>
<rect x="61.30" y="337.30" width="58.80" height="54.30" fill="#252525" />
<clipPath id="c7"><rect x="61.30" y="337.30" width="58.80" height="54.30"/></clipPath><g clip-path="url(#c7)">
<rect x="67.10" y="340.70" width="15.00" height="1.80" rx="0.90" fill="#fff" fill-opacity="0.55" filter="url(#f8)"/>
<rect x="67.10" y="344.50" width="15.00" height="1.80" rx="0.90" fill="#fff" fill-opacity="0.22" filter="url(#f8)"/>
<rect x="67.10" y="347.90" width="15.00" height="1.80" rx="0.90" fill="#fff" fill-opacity="0.20" filter="url(#f8)"/>
<rect x="67.10" y="351.30" width="15.00" height="1.80" rx="0.90" fill="#fff" fill-opacity="0.18" filter="url(#f8)"/>
<rect x="67.10" y="354.80" width="15.00" height="1.80" rx="0.90" fill="#fff" fill-opacity="0.50" filter="url(#f8)"/>
<rect x="67.10" y="360.10" width="15.00" height="1.80" rx="0.90" fill="#fff" fill-opacity="0.40" filter="url(#f8)"/>
<rect x="67.10" y="365.70" width="15.00" height="1.80" rx="0.90" fill="#fff" fill-opacity="0.32" filter="url(#f8)"/>
<rect x="67.10" y="373.70" width="15.00" height="1.80" rx="0.90" fill="#fff" fill-opacity="0.28" filter="url(#f8)"/>
<rect x="67.10" y="385.40" width="15.00" height="1.80" rx="0.90" fill="#fff" fill-opacity="0.28" filter="url(#f8)"/>
<path d="M85.5 360.6 L101.0 360.1 L101.0 362.0 L85.5 362.5 Z" fill="#fff" fill-opacity="0.78" filter="url(#f5)"/>
<rect x="104.20" y="368.60" width="14.40" height="2.00" rx="1.00" fill="#fff" fill-opacity="0.75" filter="url(#f5)"/>
<rect x="82.90" y="380.50" width="2.40" height="2.40" rx="1.20" fill="#fff" fill-opacity="0.35" filter="url(#f8)"/>
</g>
<line x1="121.00" y1="360.00" x2="129.20" y2="360.00" stroke="#000" stroke-width="0.9"/>
<path d="M123.6 357.4 L120.6 360.0 L123.6 362.6" fill="none" stroke="#000" stroke-width="0.9"/>
<line x1="121.00" y1="369.80" x2="129.20" y2="369.80" stroke="#000" stroke-width="0.9"/>
<path d="M123.6 367.2 L120.6 369.8 L123.6 372.4" fill="none" stroke="#000" stroke-width="0.9"/>
<text transform="translate(73.60,334.00) rotate(-55)" font-size="6.2" text-anchor="start" font-weight="bold">Ladder</text>
<text transform="translate(86.00,333.20) rotate(-55)" font-size="6.2" text-anchor="start" font-weight="bold">Parental</text>
<text transform="translate(110.60,316.80) rotate(-55)" font-size="6.4" text-anchor="middle" font-weight="bold"><tspan font-style="italic">MET</tspan>sg3</text>
<text transform="translate(116.60,321.20) rotate(-55)" font-size="6.4" text-anchor="middle" font-weight="bold">single clone</text>
<text transform="translate(122.30,325.20) rotate(-55)" font-size="6.4" text-anchor="middle" font-weight="bold">1F10</text>
<rect x="276.20" y="357.80" width="49.00" height="21.20" fill="#d6d6d6" />
<rect x="330.50" y="357.80" width="49.30" height="21.20" fill="#c8c8c8" />
<rect x="276.20" y="382.20" width="49.00" height="13.80" fill="#d2d2d2" />
<rect x="330.50" y="382.20" width="49.30" height="13.80" fill="#767676" />
<clipPath id="c8"><rect x="276.20" y="357.80" width="49.00" height="21.20"/></clipPath><g clip-path="url(#c8)">
<rect x="278.05" y="358.50" width="12.50" height="16.00" rx="8.00" fill="#000" fill-opacity="0.45" filter="url(#f12)"/>
<rect x="277.75" y="360.60" width="12.50" height="3.20" rx="1.60" fill="#000" fill-opacity="1.00" filter="url(#f5)"/>
<rect x="277.60" y="369.00" width="12.80" height="5.40" rx="2.70" fill="#000" fill-opacity="1.00" filter="url(#f5)"/>
<rect x="294.90" y="361.05" width="11.00" height="2.50" rx="1.25" fill="#000" fill-opacity="0.18" filter="url(#f12)"/>
<rect x="294.90" y="369.80" width="11.00" height="4.00" rx="2.00" fill="#000" fill-opacity="0.12" filter="url(#f12)"/>
<rect x="310.00" y="360.90" width="11.00" height="2.80" rx="1.40" fill="#000" fill-opacity="0.28" filter="url(#f12)"/>
<rect x="310.00" y="369.80" width="11.00" height="4.00" rx="2.00" fill="#000" fill-opacity="0.20" filter="url(#f12)"/>
<circle cx="293.4" cy="366.9" r="2.7" fill="#fff" filter="url(#f5)"/>
<rect x="276.20" y="377.00" width="49.00" height="1.50" fill="#eee" filter="url(#f5)"/>
</g>
<clipPath id="c9"><rect x="330.50" y="357.80" width="49.30" height="21.20"/></clipPath><g clip-path="url(#c9)">
<rect x="346.50" y="357.80" width="2.00" height="21.20" fill="#d8d8d8" filter="url(#f8)"/>
<rect x="362.20" y="357.80" width="2.00" height="21.20" fill="#d8d8d8" filter="url(#f8)"/>
<rect x="333.15" y="361.80" width="12.50" height="3.00" rx="1.50" fill="#000" fill-opacity="1.00" filter="url(#f5)"/>
<rect x="332.80" y="369.80" width="13.20" height="6.80" rx="3.40" fill="#000" fill-opacity="1.00" filter="url(#f5)"/>
<rect x="349.25" y="361.50" width="11.50" height="2.60" rx="1.30" fill="#000" fill-opacity="0.75" filter="url(#f8)"/>
<rect x="349.25" y="371.45" width="11.50" height="3.50" rx="1.75" fill="#000" fill-opacity="0.35" filter="url(#f12)"/>
<rect x="365.25" y="361.50" width="11.50" height="2.60" rx="1.30" fill="#000" fill-opacity="0.80" filter="url(#f8)"/>
<rect x="365.25" y="370.30" width="11.50" height="4.00" rx="2.00" fill="#000" fill-opacity="0.85" filter="url(#f8)"/>
</g>
<clipPath id="c10"><rect x="276.20" y="382.20" width="49.00" height="13.80"/></clipPath><g clip-path="url(#c10)">
<rect x="277.45" y="387.00" width="11.50" height="4.00" rx="2.00" fill="#000" fill-opacity="0.60" filter="url(#f12)"/>
<rect x="293.25" y="387.00" width="11.50" height="4.00" rx="2.00" fill="#000" fill-opacity="0.38" filter="url(#f12)"/>
<rect x="309.15" y="387.00" width="11.50" height="4.00" rx="2.00" fill="#000" fill-opacity="0.45" filter="url(#f12)"/>
</g>
<clipPath id="c11"><rect x="330.50" y="382.20" width="49.30" height="13.80"/></clipPath><g clip-path="url(#c11)">
<rect x="333.15" y="386.75" width="12.50" height="5.50" rx="2.75" fill="#000" fill-opacity="0.75" filter="url(#f12)"/>
<rect x="348.75" y="386.75" width="12.50" height="5.50" rx="2.75" fill="#000" fill-opacity="0.70" filter="url(#f12)"/>
<rect x="364.75" y="386.75" width="12.50" height="5.50" rx="2.75" fill="#000" fill-opacity="0.70" filter="url(#f12)"/>
</g>
</svg>
</div></body></html>
